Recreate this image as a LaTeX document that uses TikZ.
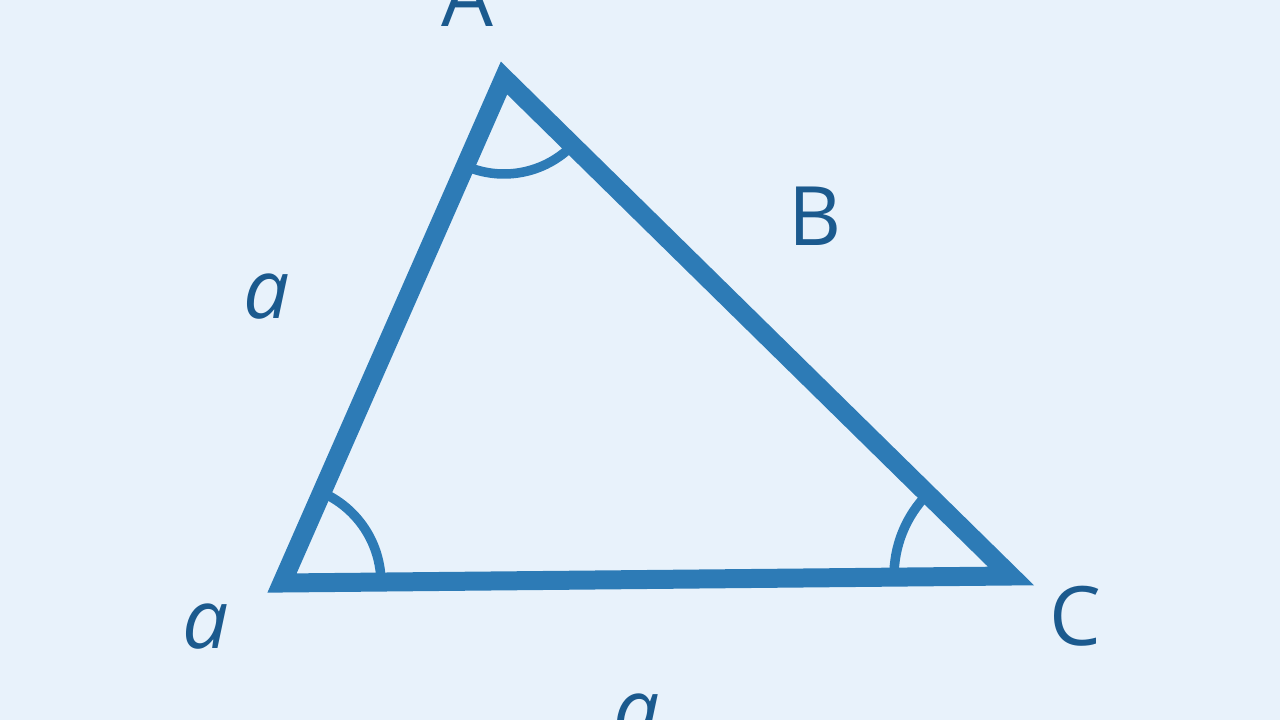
\documentclass[tikz,border=0pt]{standalone}
\usepackage{fontspec}
\setmainfont{Open Sans}
\begin{document}
\begin{tikzpicture}[x=1pt,y=1pt,
  side/.style={draw=triblue, line width=19pt, line join=miter},
  anglemark/.style={draw=triblue, line width=9.5pt},
  lbl/.style={text=lblblue, inner sep=0pt, anchor=base, font=\fontsize{82}{82}\selectfont},
  ilbl/.style={lbl, font=\fontsize{82}{82}\selectfont\itshape}]
\definecolor{bgblue}{HTML}{E8F2FB}
\definecolor{triblue}{HTML}{2D7BB6}
\definecolor{lblblue}{HTML}{1B5A8E}
\fill[bgblue] (0,0) rectangle (1280,-720);
\useasboundingbox (0,0) rectangle (1280,-720);
\coordinate (A) at (504,-78);
\coordinate (L) at (282,-583);
\coordinate (C) at (1011,-576);
\draw[side] (A) -- (L) -- (C) -- cycle;
\draw[anglemark] (A) ++(246.3:96) arc[start angle=246.3, end angle=315.5, radius=96];
\draw[anglemark] (L) ++(0.55:99) arc[start angle=0.55, end angle=66.3, radius=99];
\draw[anglemark] (C) ++(135.5:117) arc[start angle=135.5, end angle=180.55, radius=117];
\node[lbl] (lA) at (467,-27) {A};
\node[lbl] (lB) at (815,-245) {B};
\node[lbl] (lC) at (1075,-645) {C};
\node[ilbl] (la1) at (267,-318) {a};
\node[ilbl] (la2) at (206,-648) {a};
\node[ilbl] (la3) at (637,-738) {a};
\end{tikzpicture}
\end{document}
